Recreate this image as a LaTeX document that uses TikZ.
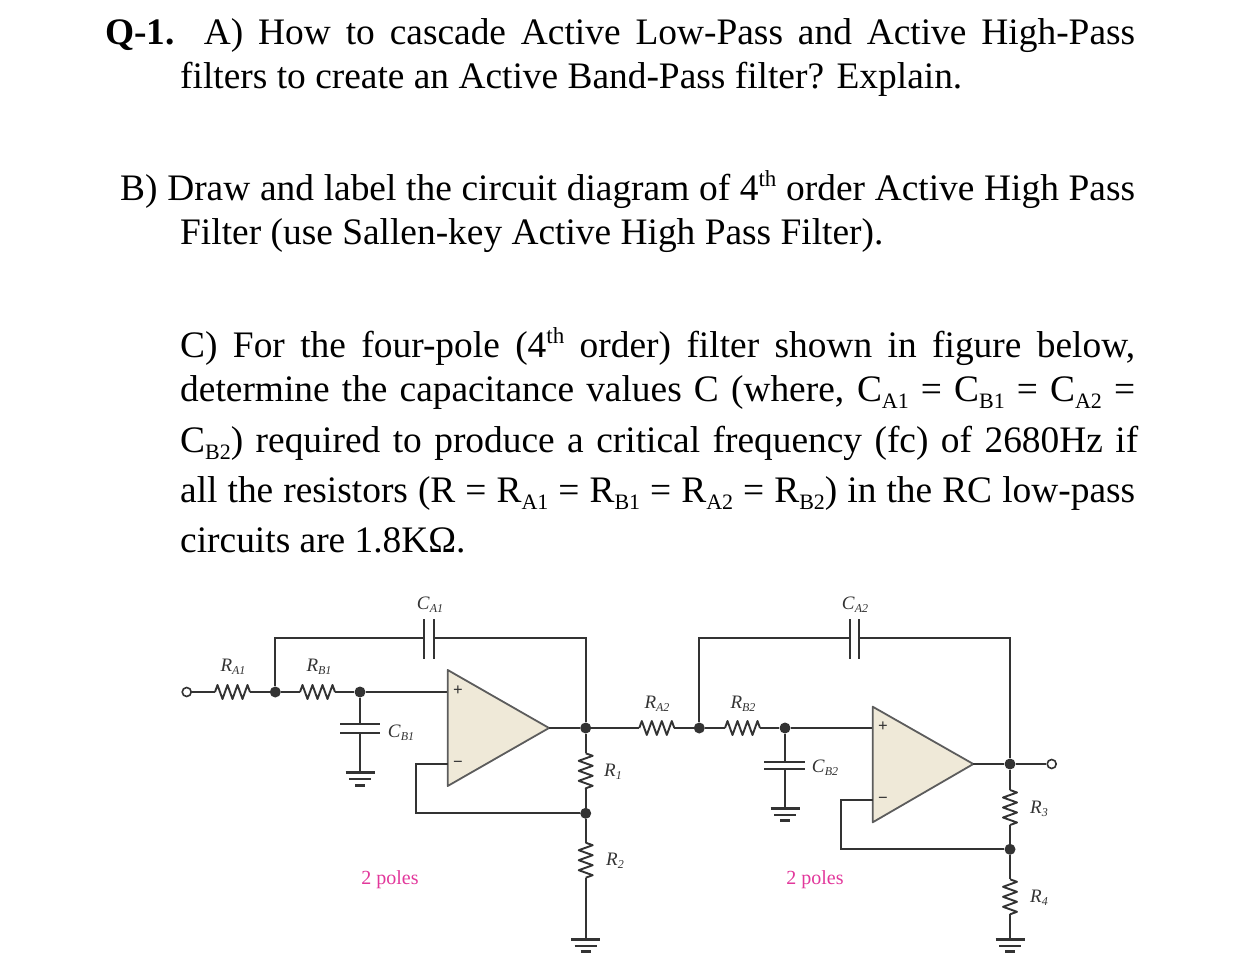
\documentclass[tikz,border=0pt]{standalone}
\usepackage{fontspec}
\setmainfont{Liberation Serif}
\usetikzlibrary{decorations.pathmorphing}
\definecolor{wirecol}{HTML}{333333}
\definecolor{opfill}{HTML}{EFE9D8}
\definecolor{polecol}{HTML}{E2379B}
\newcommand{\dn}[1]{\raisebox{-7pt}{\fontsize{22}{22}\selectfont #1}}
\newcommand{\up}[1]{\raisebox{14pt}{\fontsize{23}{23}\selectfont #1}}
\newcommand{\lab}[2]{\textit{#1}\raisebox{-3pt}{\fontsize{12}{12}\selectfont\textit{#2}}}
\tikzset{
    txt/.style = {
        anchor=base west,
        inner sep=0pt,
        text=black,
        font=\fontsize{37.4}{37.4}\selectfont,
        },
    wire/.style = {
        draw=wirecol,
        line width=1.9pt,
        },
    plate/.style = {
        draw=wirecol,
        line width=2pt,
        },
    resistor/.style = {
        wire,
        line join=round,
        decorate,
        decoration={zigzag, segment length=10pt, amplitude=7pt},
        },
    dot/.style = {
        circle,
        fill=wirecol,
        inner sep=0pt,
        minimum size=11pt,
        },
    terminal/.style = {
        circle,
        draw=wirecol,
        fill=white,
        line width=1.6pt,
        inner sep=0pt,
        minimum size=9pt,
        },
    opamp/.style = {
        draw=wirecol!80,
        fill=opfill,
        line width=1.8pt,
        line join=round,
        },
    complabel/.style = {
        text=wirecol,
        inner sep=0pt,
        font=\fontsize{19}{19}\selectfont,
        },
    poles/.style = {
        text=polecol,
        inner sep=0pt,
        font=\fontsize{20}{20}\selectfont,
        },
    sign/.style = {
        text=wirecol,
        inner sep=0pt,
        font=\fontsize{17}{17}\selectfont\bfseries,
        },
    gnd/.pic = {
        \draw[wirecol, line width=3pt] (-14.5,0) -- (14.5,0);
        \draw[wirecol, line width=1.8pt] (-11,6.5) -- (11,6.5);
        \draw[wirecol, line width=3pt] (-5,12.5) -- (5,12.5);
    },
}
\begin{document}
\begin{tikzpicture}[x=1pt, y=-1pt]
    \useasboundingbox (0,0) rectangle (1242,973);

    % question text
    \node[txt] (l1) at (105,45) {\hbox to 1030pt{\textbf{Q-1.} A) How to cascade Active Low-Pass and Active High-Pass}};
    \node[txt] (l2) at (180,89) {filters to create an Active Band-Pass filter? Explain.};
    \node[txt] (l3) at (120,201) {\hbox to 1015pt{B) Draw and label the circuit diagram of 4\up{th} order Active High Pass}};
    \node[txt] (l4) at (180,245) {Filter (use Sallen-key Active High Pass Filter).};
    \node[txt] (l5) at (180,358) {\hbox to 955pt{C) For the four-pole (4\up{th} order) filter shown in figure below,}};
    \node[txt] (l6) at (180,402) {\hbox to 955pt{determine the capacitance values C (where, C\dn{A1} = C\dn{B1} = C\dn{A2} =}};
    \node[txt] (l7) at (180,452) {\hbox to 958pt{C\dn{B2}) required to produce a critical frequency (fc) of 2680Hz if}};
    \node[txt] (l8) at (180,502) {\hbox to 955pt{all the resistors (R = R\dn{A1} = R\dn{B1} = R\dn{A2} = R\dn{B2}) in the RC low-pass}};
    \node[txt] (l9) at (180,552) {circuits are 1.8KΩ.};

    % first stage
    \node[terminal] (in) at (186.7,692) {};
    \node[dot] (n1) at (275.3,692) {};
    \node[dot] (n2) at (360,692) {};
    \node[dot] (out1) at (585.7,728) {};
    \node[dot] (fb1) at (585.7,813.3) {};
    \coordinate (ra1a) at (215,692);
    \coordinate (ra1b) at (250,692);
    \coordinate (rb1a) at (300,692);
    \coordinate (rb1b) at (335,692);
    \coordinate (top1) at (447.7,670);
    \coordinate (bot1) at (447.7,786);
    \coordinate (tip1) at (549,728);
    \coordinate (plus1) at (447.7,692);
    \coordinate (minus1) at (447.7,764);
    \coordinate (ca1a) at (424,638.3);
    \coordinate (ca1b) at (434.3,638.3);
    \coordinate (cb1a) at (360,724);
    \coordinate (cb1b) at (360,733.3);
    \coordinate (g1) at (360,772.7);
    \coordinate (r1a) at (585.7,753.3);
    \coordinate (r1b) at (585.7,789.3);
    \coordinate (r2a) at (585.7,842.7);
    \coordinate (r2b) at (585.7,877.7);
    \coordinate (g2) at (585.7,939.3);
    \coordinate (loop1) at (415.7,764);

    \draw[wire] (in) -- (ra1a);
    \draw[resistor] (ra1a) -- (ra1b);
    \draw[wire] (ra1b) -- (n1);
    \draw[wire] (n1) -- (rb1a);
    \draw[resistor] (rb1a) -- (rb1b);
    \draw[wire] (rb1b) -- (n2);
    \draw[wire] (n2) -- (plus1);
    \draw[wire] (n1) |- (ca1a);
    \draw[wire] (ca1b) -| (out1);
    \draw[plate] (424,619.3) -- (424,659.3);
    \draw[plate] (434.3,619.3) -- (434.3,659.3);
    \draw[wire] (n2) -- (cb1a);
    \draw[plate] (340,724) -- (380,724);
    \draw[plate] (340,733.3) -- (380,733.3);
    \draw[wire] (cb1b) -- (g1);
    \pic at (g1) {gnd};
    \draw[opamp] (top1) -- (bot1) -- (tip1) -- cycle;
    \draw[wire] (tip1) -- (out1);
    \draw[wire] (out1) -- (r1a);
    \draw[resistor] (r1a) -- (r1b);
    \draw[wire] (r1b) -- (fb1);
    \draw[wire] (fb1) -- (r2a);
    \draw[resistor] (r2a) -- (r2b);
    \draw[wire] (r2b) -- (g2);
    \pic at (g2) {gnd};
    \draw[wire] (minus1) -- (loop1) |- (fb1);

    % second stage
    \node[dot] (n3) at (699.3,728) {};
    \node[dot] (n4) at (785,728) {};
    \node[dot] (out2) at (1010,764) {};
    \node[dot] (fb2) at (1010,849.3) {};
    \node[terminal] (vout) at (1051.7,764) {};
    \coordinate (ra2a) at (639.3,728);
    \coordinate (ra2b) at (674.3,728);
    \coordinate (rb2a) at (725,728);
    \coordinate (rb2b) at (760,728);
    \coordinate (top2) at (872.7,706.7);
    \coordinate (bot2) at (872.7,822.3);
    \coordinate (tip2) at (973.3,764);
    \coordinate (plus2) at (872.7,728);
    \coordinate (minus2) at (872.7,800.3);
    \coordinate (ca2a) at (850,638.3);
    \coordinate (ca2b) at (858.7,638.3);
    \coordinate (cb2a) at (785,762.3);
    \coordinate (cb2b) at (785,769.3);
    \coordinate (g3) at (785,808.3);
    \coordinate (r3a) at (1010,790);
    \coordinate (r3b) at (1010,825);
    \coordinate (r4a) at (1010,879.3);
    \coordinate (r4b) at (1010,914.3);
    \coordinate (g4) at (1010,939.3);
    \coordinate (loop2) at (841.3,800.3);

    \draw[wire] (out1) -- (ra2a);
    \draw[resistor] (ra2a) -- (ra2b);
    \draw[wire] (ra2b) -- (n3);
    \draw[wire] (n3) -- (rb2a);
    \draw[resistor] (rb2a) -- (rb2b);
    \draw[wire] (rb2b) -- (n4);
    \draw[wire] (n4) -- (plus2);
    \draw[wire] (n3) |- (ca2a);
    \draw[wire] (ca2b) -| (out2);
    \draw[plate] (850,619.3) -- (850,659.3);
    \draw[plate] (858.7,619.3) -- (858.7,659.3);
    \draw[wire] (n4) -- (cb2a);
    \draw[plate] (764,762.3) -- (805,762.3);
    \draw[plate] (764,769.3) -- (805,769.3);
    \draw[wire] (cb2b) -- (g3);
    \pic at (g3) {gnd};
    \draw[opamp] (top2) -- (bot2) -- (tip2) -- cycle;
    \draw[wire] (tip2) -- (out2);
    \draw[wire] (out2) -- (vout);
    \draw[wire] (out2) -- (r3a);
    \draw[resistor] (r3a) -- (r3b);
    \draw[wire] (r3b) -- (fb2);
    \draw[wire] (fb2) -- (r4a);
    \draw[resistor] (r4a) -- (r4b);
    \draw[wire] (r4b) -- (g4);
    \pic at (g4) {gnd};
    \draw[wire] (minus2) -- (loop2) |- (fb2);

    % labels
    \node[complabel] (lra1) at (233,667) {\lab{R}{A1}};
    \node[complabel] (lrb1) at (319,667) {\lab{R}{B1}};
    \node[complabel] (lca1) at (430,605) {\lab{C}{A1}};
    \node[complabel] (lcb1) at (401,733) {\lab{C}{B1}};
    \node[complabel] (lr1) at (613,772) {\lab{R}{1}};
    \node[complabel] (lr2) at (615,861) {\lab{R}{2}};
    \node[complabel] (lra2) at (657,704) {\lab{R}{A2}};
    \node[complabel] (lrb2) at (743,704) {\lab{R}{B2}};
    \node[complabel] (lca2) at (855,605) {\lab{C}{A2}};
    \node[complabel] (lcb2) at (825,768) {\lab{C}{B2}};
    \node[complabel] (lr3) at (1039,809) {\lab{R}{3}};
    \node[complabel] (lr4) at (1039,898) {\lab{R}{4}};
    \node[sign] (p1) at (458,691) {+};
    \node[sign] (m1) at (458,764) {\textminus};
    \node[sign] (p2) at (883,727) {+};
    \node[sign] (m2) at (883,800) {\textminus};
    \node[poles] (poles1) at (390,880) {2 poles};
    \node[poles] (poles2) at (815,880) {2 poles};
\end{tikzpicture}
\end{document}
